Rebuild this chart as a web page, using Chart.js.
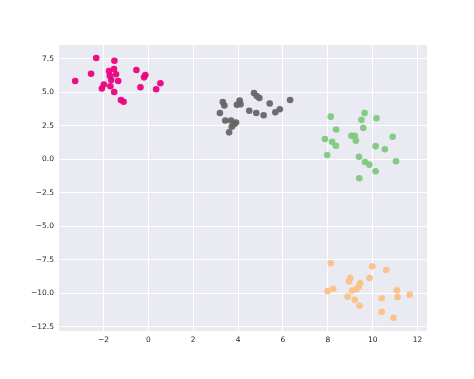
<!DOCTYPE html>
<html>
<head>
<meta charset="utf-8">
<script src="https://cdn.jsdelivr.net/npm/chart.js@4"></script>
<style>
html,body{margin:0;padding:0;background:#fff;}
#wrap{width:474px;height:379px;}
</style>
</head>
<body>
<div id="wrap"><canvas id="c" width="474" height="379"></canvas></div>
<script>
const pinkX = [-2.32,-1.51,-2.55,-3.26,-1.75,-1.53,-1.44,-1.72,-1.65,-1.34,-0.53,-0.13,-0.19,0.54,-0.35,0.35,-1.98,-2.07,-1.69,-1.52,-1.22,-1.10];
const pinkY = [7.55,7.35,6.38,5.84,6.58,6.73,6.34,6.23,5.91,5.84,6.66,6.28,6.11,5.67,5.37,5.22,5.58,5.28,5.44,5.02,4.42,4.29];
const grayX = [4.71,4.83,4.95,5.41,6.32,5.86,5.66,5.14,4.81,4.50,4.07,3.95,4.11,3.32,3.39,3.19,3.43,3.69,3.91,3.82,3.72,3.60];
const grayY = [4.94,4.72,4.57,4.16,4.42,3.73,3.50,3.28,3.45,3.62,4.38,4.06,4.10,4.27,4.01,3.45,2.89,2.89,2.74,2.62,2.43,2.01];
const greenX = [9.64,9.50,10.17,8.13,9.58,8.37,7.87,8.19,8.36,9.05,9.20,9.25,10.89,10.13,10.54,7.97,9.39,9.66,9.85,11.04,10.13,9.40];
const greenY = [3.45,2.94,3.06,3.18,2.33,2.22,1.51,1.30,1.01,1.75,1.75,1.39,1.68,0.98,0.75,0.32,0.19,-0.20,-0.40,-0.15,-0.89,-1.41];
const orangeX = [8.13,9.98,10.60,9.00,8.94,9.86,9.44,9.38,9.28,9.09,8.24,7.99,11.08,11.11,11.65,8.88,9.20,10.40,9.41,10.40,10.92];
const orangeY = [-7.75,-7.97,-8.25,-8.85,-9.11,-8.85,-9.24,-9.50,-9.69,-9.78,-9.65,-9.83,-9.76,-10.26,-10.09,-10.24,-10.47,-10.36,-10.92,-11.36,-11.82];
const xTicks = [-2,0,2,4,6,8,10,12];
const yTicks = [7.5,5.0,2.5,0.0,-2.5,-5.0,-7.5,-10.0,-12.5];

function pts(xs, ys){ return xs.map((x,i)=>({x:x,y:ys[i]})); }
function ds(xs, ys, color){
  return {data: pts(xs, ys), backgroundColor: color, borderWidth: 0, pointRadius: 3.3, pointHoverRadius: 3.3};
}
const bgPlugin = {
  id:'bg',
  beforeDraw(chart){
    const {ctx, chartArea:a} = chart;
    ctx.save(); ctx.fillStyle = '#eaeaf2';
    ctx.fillRect(a.left, a.top, a.right-a.left, a.bottom-a.top);
    ctx.restore();
  }
};
new Chart(document.getElementById('c'), {
  type: 'scatter',
  data: { datasets: [
    ds(pinkX, pinkY, 'rgba(236,2,127,0.95)'),
    ds(grayX, grayY, 'rgba(102,102,102,0.95)'),
    ds(greenX, greenY, 'rgba(127,201,127,0.95)'),
    ds(orangeX, orangeY, 'rgba(253,192,134,0.95)')
  ]},
  options: {
    responsive: false, animation: false,
    layout: { padding: {left: 0, top: 45, right: 47, bottom: 0} },
    plugins: { legend: {display: false}, tooltip: {enabled: false} },
    scales: {
      x: {
        type: 'linear', min: -3.98, max: 12.42,
        afterBuildTicks(s){ s.ticks = xTicks.map(v=>({value:v})); },
        afterFit(s){ s.height = 48; },
        grid: { color: '#ffffff', lineWidth: 1, drawTicks: false },
        border: { display: false },
        ticks: { color: '#262626', font: {family: 'DejaVu Sans', size: 7.5}, padding: 5,
          callback: v => (v < 0 ? '\u2212' : '') + Math.abs(v) }
      },
      y: {
        type: 'linear', min: -12.80, max: 8.52,
        afterBuildTicks(s){ s.ticks = yTicks.map(v=>({value:v})); },
        afterFit(s){ s.width = 59; },
        grid: { color: '#ffffff', lineWidth: 1, drawTicks: false },
        border: { display: false },
        ticks: { color: '#262626', font: {family: 'DejaVu Sans', size: 7.5}, padding: 5,
          callback: v => (v < 0 ? '\u2212' : '') + Math.abs(v).toFixed(1) }
      }
    }
  },
  plugins: [bgPlugin]
});
</script>
</body>
</html>
